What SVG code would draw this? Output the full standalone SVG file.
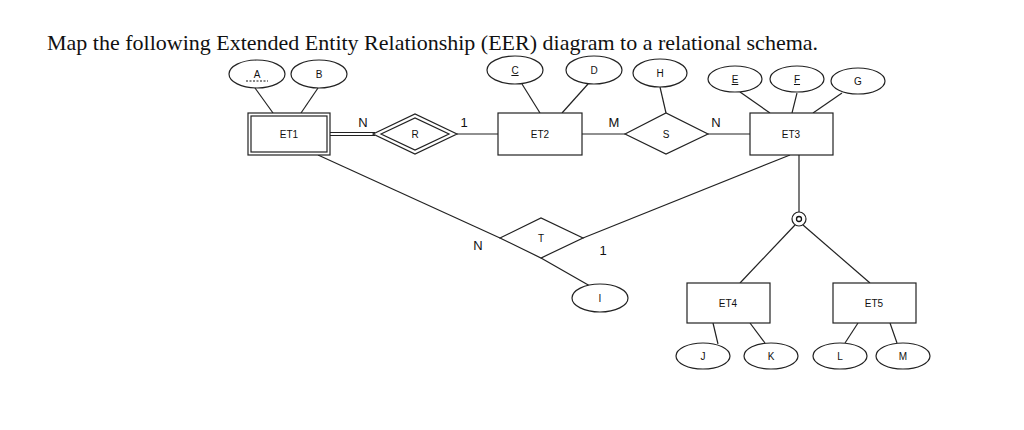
<svg xmlns="http://www.w3.org/2000/svg" width="1024" height="430" viewBox="0 0 1024 430">
<style>
.s{fill:#fff;stroke:#222;stroke-width:1.2}
.l{stroke:#222;stroke-width:1.2;fill:none}
.t{font-family:"Liberation Sans",Arial,sans-serif;font-size:10px;text-anchor:middle;fill:#111}
.c{font-family:"Liberation Sans",Arial,sans-serif;font-size:13px;text-anchor:middle;fill:#111}
</style>
<rect width="1024" height="430" fill="#fff"/>
<text x="47" y="50" font-family="Liberation Serif,serif" font-size="22" fill="#111">Map the following Extended Entity Relationship (EER) diagram to a relational schema.</text>
<g id="connectors" class="l">
<line x1="255" y1="88" x2="273" y2="113"/><line x1="318" y1="88" x2="301" y2="113"/>
<line x1="522" y1="84" x2="540" y2="113"/><line x1="588" y1="84" x2="562" y2="113"/>
<line x1="660" y1="87" x2="666" y2="113"/>
<line x1="740" y1="92" x2="770" y2="113"/><line x1="797" y1="93" x2="792" y2="113"/><line x1="842" y1="93" x2="813" y2="113"/>
<line x1="330" y1="132.5" x2="375" y2="132.5"/><line x1="330" y1="135.5" x2="375" y2="135.5"/>
<line x1="457" y1="134" x2="498" y2="134"/><line x1="582" y1="134" x2="625" y2="134"/><line x1="708" y1="134" x2="750" y2="134"/>
<line x1="318" y1="155" x2="500" y2="238"/><line x1="790" y1="155" x2="583" y2="238"/>
<line x1="541" y1="258" x2="590" y2="286"/>
<line x1="799" y1="155" x2="799" y2="212"/>
<line x1="795" y1="225" x2="740" y2="283"/><line x1="803" y1="225" x2="870" y2="283"/>
<line x1="718" y1="344" x2="713" y2="323"/><line x1="765" y1="343" x2="750" y2="323"/>
<line x1="845" y1="343" x2="858" y2="323"/><line x1="897" y1="343" x2="890" y2="323"/>
</g>
<g id="A"><ellipse class="s" cx="257" cy="74" rx="28" ry="14"/><text class="t" x="257" y="78">A</text><line x1="246" y1="81" x2="268" y2="81" stroke="#111" stroke-dasharray="2,1.5"/></g>
<g id="B"><ellipse class="s" cx="319" cy="74" rx="28" ry="14"/><text class="t" x="319" y="78">B</text></g>
<g id="C"><ellipse class="s" cx="515" cy="70" rx="28" ry="14"/><text class="t" x="515" y="74" text-decoration="underline">C</text></g>
<g id="D"><ellipse class="s" cx="594" cy="70" rx="28" ry="14"/><text class="t" x="594" y="74">D</text></g>
<g id="H"><ellipse class="s" cx="660" cy="73" rx="27" ry="14"/><text class="t" x="660" y="77">H</text></g>
<g id="E"><ellipse class="s" cx="735" cy="79" rx="27" ry="13"/><text class="t" x="735" y="83" text-decoration="underline">E</text></g>
<g id="F"><ellipse class="s" cx="797" cy="79" rx="27" ry="13"/><text class="t" x="797" y="83" text-decoration="underline">F</text></g>
<g id="G"><ellipse class="s" cx="858" cy="81" rx="27" ry="13"/><text class="t" x="858" y="85">G</text></g>
<g id="ET1"><rect class="s" x="248" y="113" width="82" height="42"/><rect class="s" x="251" y="116" width="76" height="36"/><text class="t" x="289" y="138">ET1</text></g>
<g id="R"><polygon class="s" points="373,134 415,114 457,134 415,154"/><polygon class="s" points="381,134 415,118 449,134 415,150"/><text class="t" x="415" y="138">R</text></g>
<g id="ET2"><rect class="s" x="498" y="113" width="84" height="42"/><text class="t" x="540" y="138">ET2</text></g>
<g id="S"><polygon class="s" points="625,134 666,113 708,134 666,154"/><text class="t" x="666" y="138">S</text></g>
<g id="ET3"><rect class="s" x="750" y="113" width="83" height="42"/><text class="t" x="791" y="138">ET3</text></g>
<g id="T"><polygon class="s" points="500,238 541,218 583,238 541,258"/><text class="t" x="541" y="242">T</text></g>
<g id="I"><ellipse class="s" cx="600" cy="298" rx="28" ry="14"/><text class="t" x="600" y="302">I</text></g>
<g id="disjoint"><circle class="s" cx="799" cy="219" r="7"/><circle cx="799" cy="219" r="2.5" fill="none" stroke="#111" stroke-width="1.3"/></g>
<g id="ET4"><rect class="s" x="687" y="283" width="83" height="40"/><text class="t" x="728" y="307">ET4</text></g>
<g id="ET5"><rect class="s" x="833" y="283" width="83" height="40"/><text class="t" x="874" y="307">ET5</text></g>
<g id="J"><ellipse class="s" cx="703" cy="356" rx="27" ry="13"/><text class="t" x="703" y="360">J</text></g>
<g id="K"><ellipse class="s" cx="771" cy="356" rx="27" ry="13"/><text class="t" x="771" y="360">K</text></g>
<g id="L"><ellipse class="s" cx="840" cy="356" rx="27" ry="13"/><text class="t" x="840" y="360">L</text></g>
<g id="M"><ellipse class="s" cx="903" cy="356" rx="27" ry="13"/><text class="t" x="903" y="360">M</text></g>
<g id="labels">
<text class="c" x="363" y="127">N</text><text class="c" x="464" y="127">1</text>
<text class="c" x="614" y="127">M</text><text class="c" x="716" y="127">N</text>
<text class="c" x="478" y="250">N</text><text class="c" x="603" y="255">1</text>
</g>
</svg>
